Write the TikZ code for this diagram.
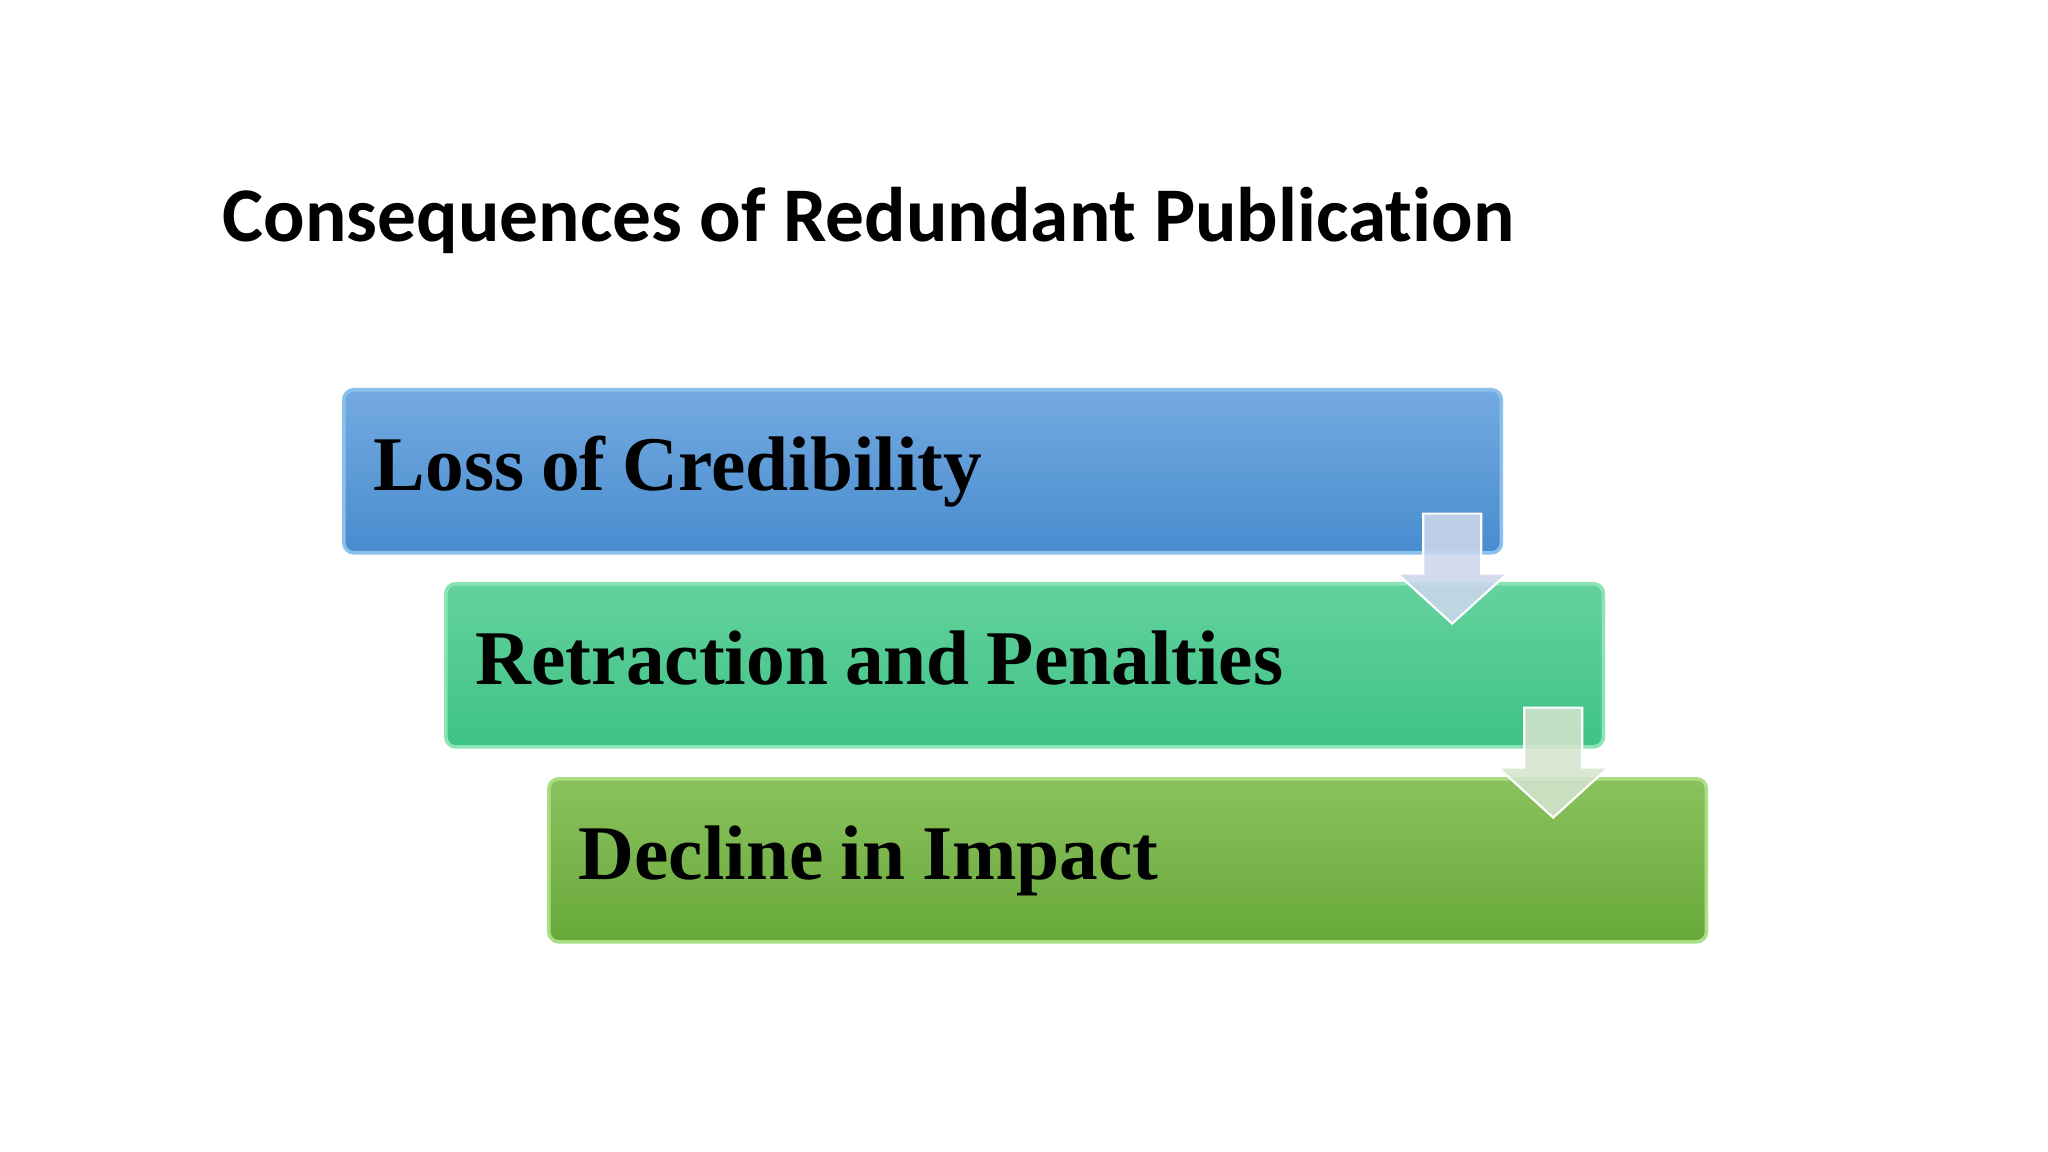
\documentclass[tikz,border=0pt]{standalone}
\usepackage{fontspec}
\setmainfont{Liberation Serif}
\newfontfamily\titlefont[Ligatures=NoCommon]{Carlito}
\usetikzlibrary{calc}
\definecolor{bluetop}{RGB}{116,170,225}
\definecolor{bluebot}{RGB}{72,140,206}
\definecolor{blueedge}{RGB}{140,192,236}
\definecolor{teeltop}{RGB}{100,210,158}
\definecolor{teelbot}{RGB}{62,194,132}
\definecolor{teeledge}{RGB}{140,228,182}
\definecolor{leaftop}{RGB}{138,194,94}
\definecolor{leafbot}{RGB}{104,168,58}
\definecolor{leafedge}{RGB}{170,222,130}
\definecolor{arrowA}{RGB}{204,215,236}
\definecolor{arrowB}{RGB}{212,228,206}
\tikzset{
  titlestyle/.style={font=\titlefont\bfseries\fontsize{22}{26}\selectfont, inner sep=0pt},
  stagebox/.style={anchor=north west, rectangle, rounded corners=0.1cm,
    minimum width=11.57cm, minimum height=1.63cm, inner xsep=0.3cm,
    text width=10.97cm, align=left, line width=1pt,
    font=\bfseries\fontsize{22}{26}\selectfont, text height=16pt, text depth=5pt,
    execute at begin node={\spaceskip=0.22em\relax}},
  blockarrow/.style={line width=0.6pt, draw=white, fill opacity=0.88}
}
\begin{document}
\begin{tikzpicture}[x=0.01cm,y=-0.01cm]
\useasboundingbox[fill=white] (0,0) rectangle (2048,1152);
\node[titlestyle, anchor=base west] (title) at (222,242) {Consequences of Redundant Publication};
\node[stagebox, top color=bluetop, bottom color=bluebot, draw=blueedge] (b1) at (342,388) {Loss of Credibility};
\node[stagebox, top color=teeltop, bottom color=teelbot, draw=teeledge] (b2) at (444,582) {Retraction and Penalties};
\node[stagebox, top color=leaftop, bottom color=leafbot, draw=leafedge] (b3) at (547,777) {Decline in Impact};
\coordinate (a1) at ($(b1.south east)+(-51,-41)$);
\coordinate (a2) at ($(b2.south east)+(-52,-41)$);
\draw[blockarrow, fill=arrowA, shift={(a1)}] (-29,0) -- (29,0) -- (29,60) -- (55,60) -- (0,110) -- (-55,60) -- (-29,60) -- cycle;
\draw[blockarrow, fill=arrowB, shift={(a2)}] (-29,0) -- (29,0) -- (29,60) -- (55,60) -- (0,110) -- (-55,60) -- (-29,60) -- cycle;
\end{tikzpicture}
\end{document}
